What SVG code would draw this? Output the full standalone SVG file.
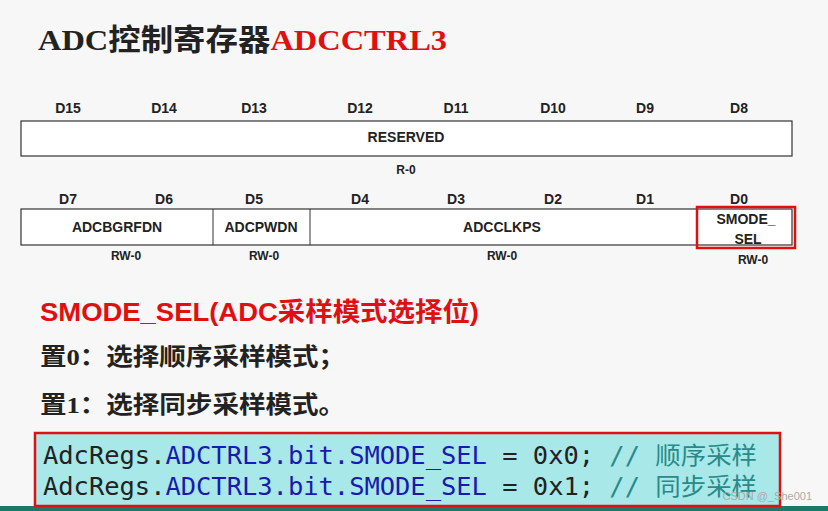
<svg xmlns="http://www.w3.org/2000/svg" width="828" height="511" viewBox="0 0 828 511">
<style>
.b{font-family:"Liberation Sans",Arial,sans-serif;font-size:14px;font-weight:bold;fill:#222;text-anchor:middle}
.s{font-family:"Liberation Sans",Arial,sans-serif;font-size:12px;font-weight:bold;fill:#222;text-anchor:middle}
.box{fill:#fff;stroke:#333;stroke-width:1.2}
.c{font-family:"DejaVu Sans Mono","Liberation Mono","Noto Sans CJK SC",monospace;font-size:24px}
</style>
<rect width="828" height="511" fill="#f7f7f7"/>
<rect x="0" y="506" width="828" height="5" fill="#1a7a6a"/>
<g id="title"><text x="38" y="50" font-family="'Liberation Serif','Noto Sans CJK SC',serif" font-size="30" font-weight="bold" fill="#222" textLength="409" lengthAdjust="spacingAndGlyphs">ADC控制寄存器<tspan fill="#e01010">ADCCTRL3</tspan></text></g>
<g id="reg-high">
<rect class="box" x="21" y="121" width="771" height="35"/>
<text class="b" x="406" y="142">RESERVED</text>
<text class="s" x="406" y="174">R-0</text>
<text class="b" x="68" y="113">D15</text><text class="b" x="164" y="113">D14</text><text class="b" x="254" y="113">D13</text><text class="b" x="360" y="113">D12</text><text class="b" x="456" y="113">D11</text><text class="b" x="553" y="113">D10</text><text class="b" x="645" y="113">D9</text><text class="b" x="739" y="113">D8</text>
</g>
<g id="reg-low">
<rect class="box" x="21" y="209" width="771" height="36"/>
<line x1="213" y1="209" x2="213" y2="245" stroke="#333"/>
<line x1="310" y1="209" x2="310" y2="245" stroke="#333"/>
<text class="b" x="117" y="232">ADCBGRFDN</text>
<text class="b" x="261" y="232">ADCPWDN</text>
<text class="b" x="502" y="232">ADCCLKPS</text>
<text class="b" x="746" y="224">SMODE_</text>
<text class="b" x="748" y="244">SEL</text>
<rect x="697" y="207" width="98" height="41" fill="none" stroke="#e01010" stroke-width="2.5"/>
<text class="b" x="68" y="204">D7</text><text class="b" x="164" y="204">D6</text><text class="b" x="254" y="204">D5</text><text class="b" x="360" y="204">D4</text><text class="b" x="456" y="204">D3</text><text class="b" x="553" y="204">D2</text><text class="b" x="645" y="204">D1</text><text class="b" x="739" y="204">D0</text>
<text class="s" x="126" y="260">RW-0</text><text class="s" x="264" y="260">RW-0</text><text class="s" x="502" y="260">RW-0</text><text class="s" x="753" y="264">RW-0</text>
</g>
<g id="desc">
<text x="40" y="321" font-family="'Liberation Sans','Noto Sans CJK SC',sans-serif" font-size="26" font-weight="bold" fill="#e01010" textLength="439" lengthAdjust="spacingAndGlyphs">SMODE_SEL(ADC采样模式选择位)</text>
<text x="40" y="365" font-family="'Liberation Serif','Noto Sans CJK SC',serif" font-size="24" font-weight="bold" fill="#222" textLength="305" lengthAdjust="spacingAndGlyphs">置0：选择顺序采样模式；</text>
<text x="40" y="413" font-family="'Liberation Serif','Noto Sans CJK SC',serif" font-size="24" font-weight="bold" fill="#222" textLength="305" lengthAdjust="spacingAndGlyphs">置1：选择同步采样模式。</text>
</g>
<g id="code">
<rect x="35" y="433" width="745" height="73" fill="#a8e8e8" stroke="#e01010" stroke-width="2.5"/>
<text class="c" x="43" y="464" textLength="714" lengthAdjust="spacingAndGlyphs"><tspan fill="#222">AdcRegs.</tspan><tspan fill="#1a1ab0">ADCTRL3.bit.SMODE_SEL</tspan><tspan fill="#222"> = 0x0; </tspan><tspan fill="#2a8a8a">// 顺序采样</tspan></text>
<text class="c" x="43" y="495" textLength="714" lengthAdjust="spacingAndGlyphs"><tspan fill="#222">AdcRegs.</tspan><tspan fill="#1a1ab0">ADCTRL3.bit.SMODE_SEL</tspan><tspan fill="#222"> = 0x1; </tspan><tspan fill="#2a8a8a">// 同步采样</tspan></text>
<text x="812" y="500" font-family="'Liberation Sans',sans-serif" font-size="11" fill="#aaa" text-anchor="end">CSDN @_She001</text>
</g>
</svg>
